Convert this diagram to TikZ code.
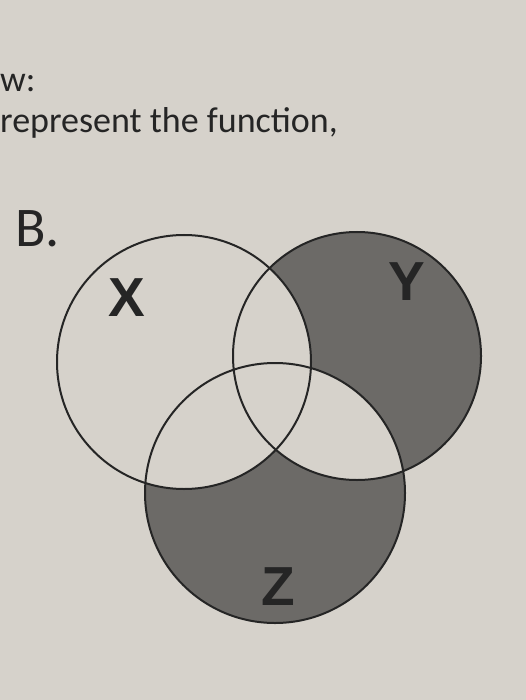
\documentclass[tikz,border=0pt]{standalone}
\usepackage{fontspec}
\setmainfont{Carlito}
\newfontfamily\lblfont{Liberation Sans}
\definecolor{paper}{HTML}{D6D2CB}
\definecolor{darkfill}{HTML}{6C6A67}
\definecolor{ink}{HTML}{252525}
\begin{document}
\begin{tikzpicture}[x=1pt,y=-1pt,
  txt/.style={anchor=base west, inner sep=0pt, text=ink, font=\fontsize{36}{40}\selectfont},
  lbl/.style={inner sep=0pt, text=ink, font=\lblfont\bfseries\fontsize{55}{60}\selectfont},
  ring/.style={draw=ink, line width=2pt}]
\fill[paper] (0,0) rectangle (526,700);
\useasboundingbox (0,0) rectangle (526,700);
% shaded: Y only and Z only
\fill[darkfill, even odd rule] (357,356) circle[radius=124] (275,493) circle[radius=130];
\fill[paper] (184,362) circle[radius=127];
\path[ring] (184,362) circle[radius=127];
\path[ring] (357,356) circle[radius=124];
\path[ring] (275,493) circle[radius=130];
\node[txt] (t1) at (0,92) {w:};
\node[txt] (t2) at (0,133) {represent the function,};
\node[txt, font=\fontsize{56}{60}\selectfont] (B) at (15,247) {B.};
\node[lbl] (X) at (127,298) {X};
\node[lbl] (Y) at (407,282) {Y};
\node[lbl] (Z) at (278,587) {Z};
\end{tikzpicture}
\end{document}
